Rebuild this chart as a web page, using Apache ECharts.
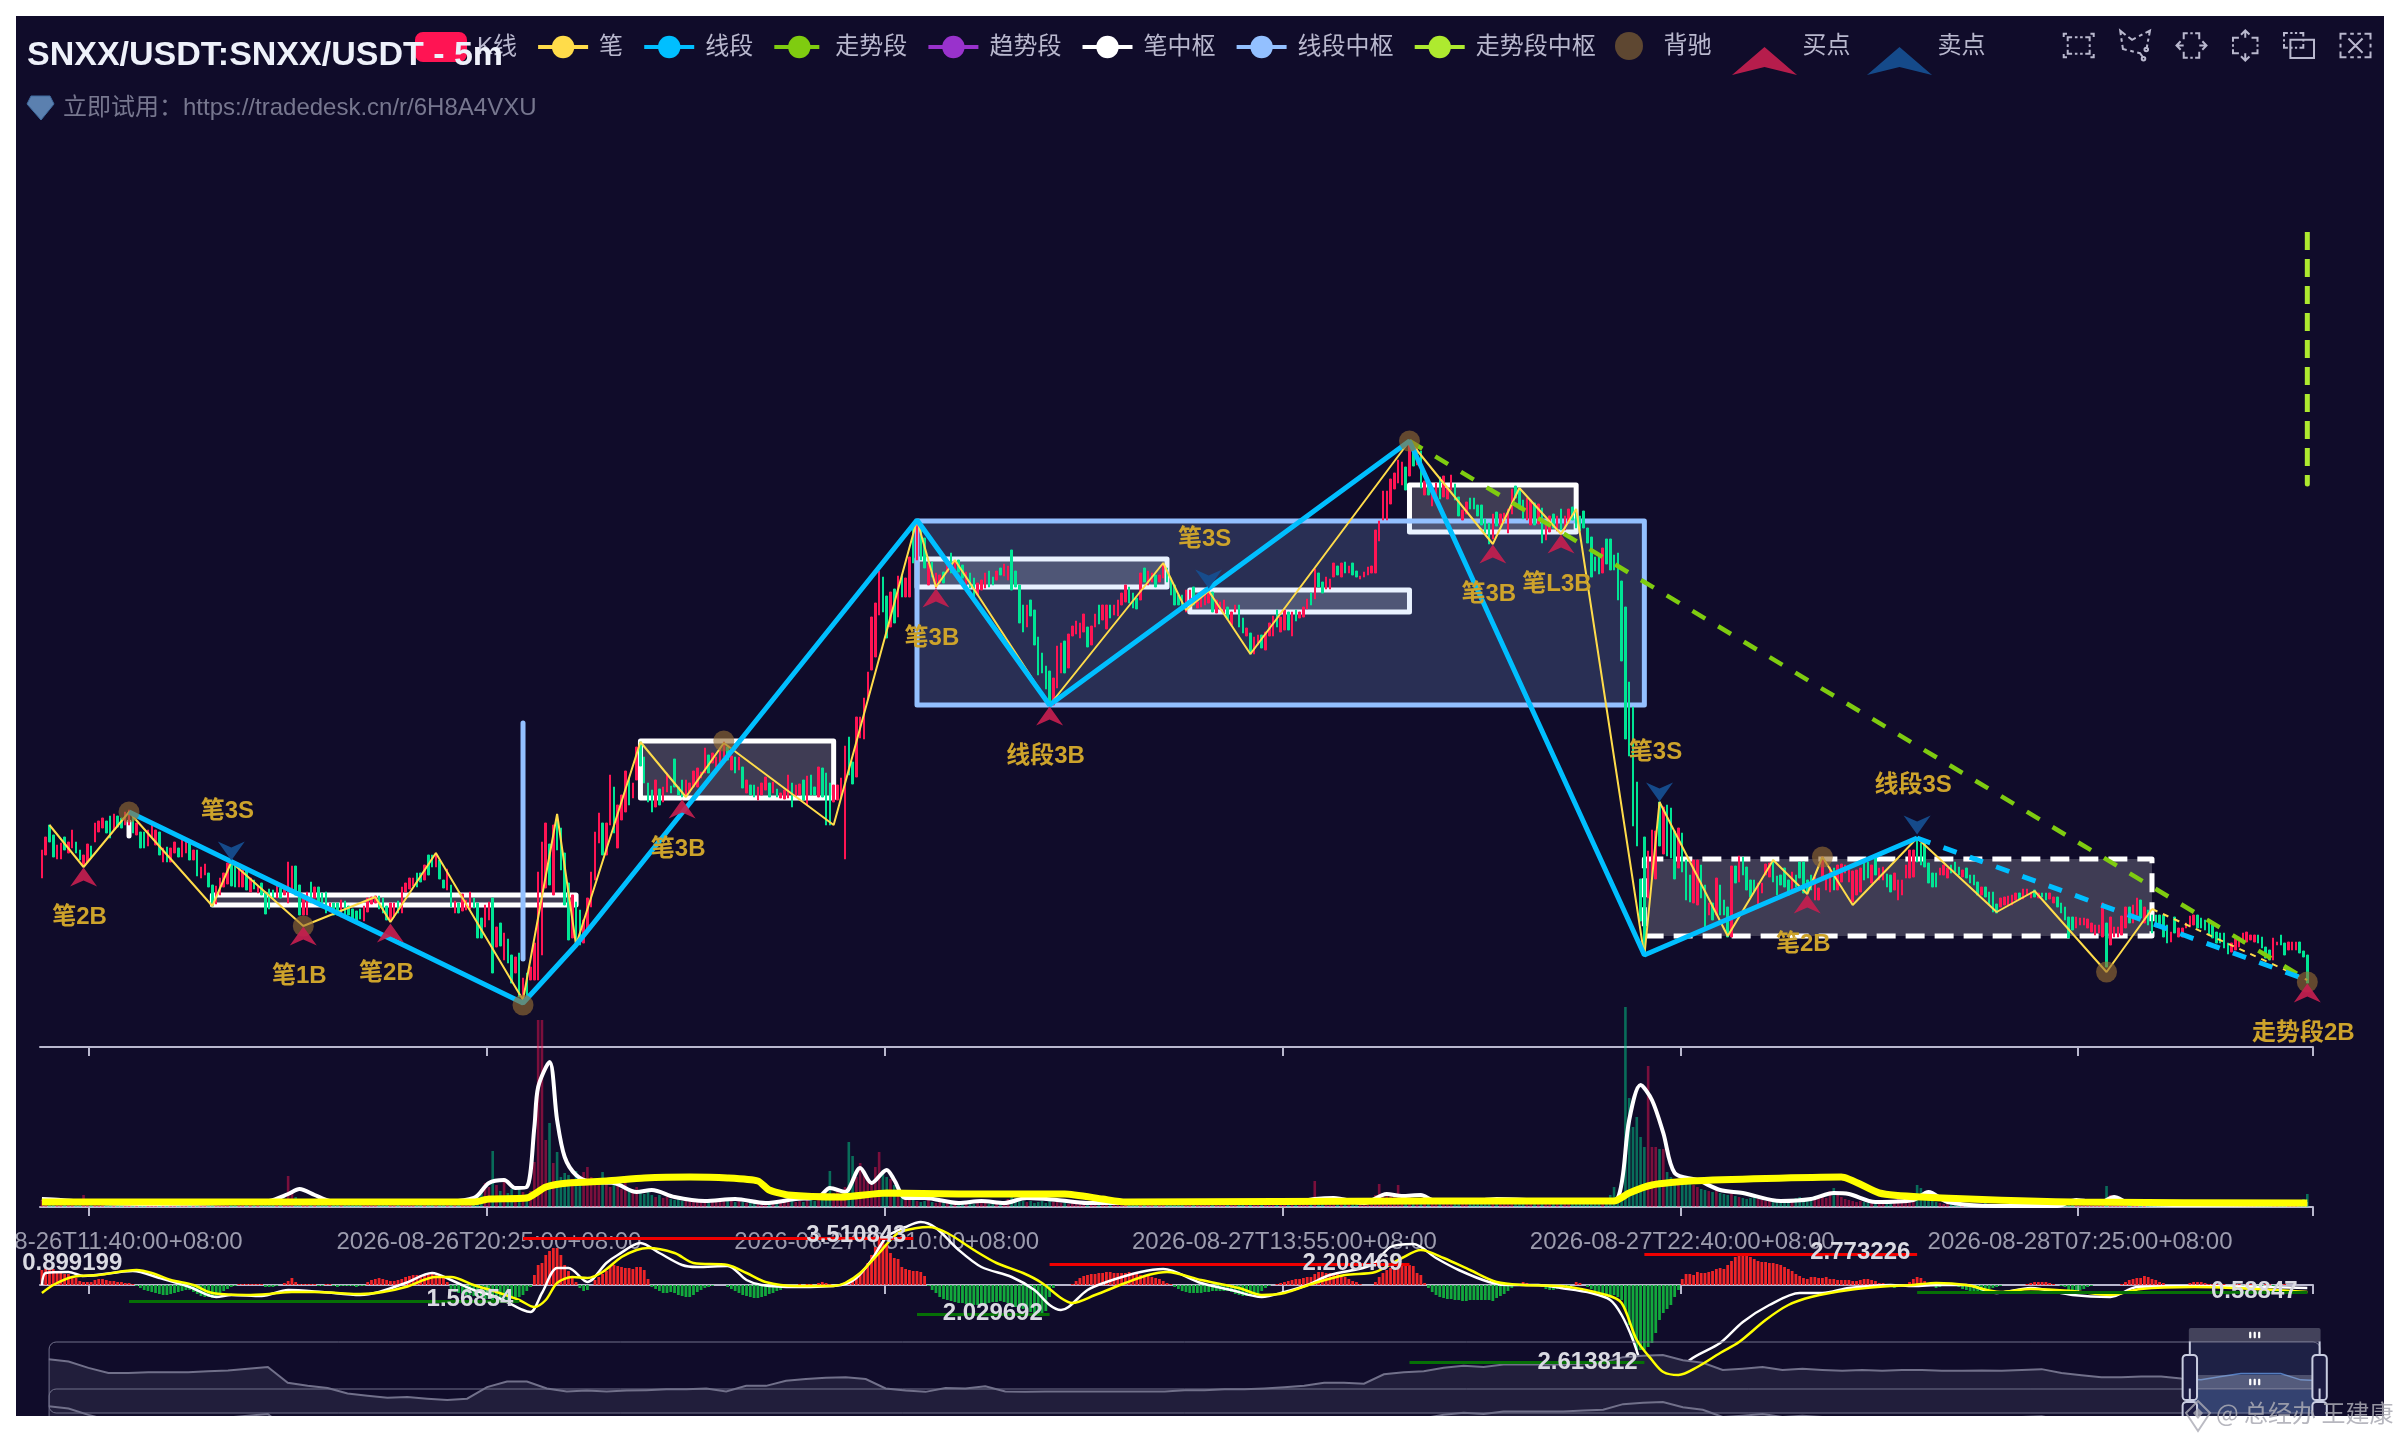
<!doctype html>
<html><head><meta charset="utf-8">
<style>html,body{margin:0;padding:0;background:#fff}#c{width:2400px;height:1440px}</style>
<script src="https://cdn.jsdelivr.net/npm/echarts@6/dist/echarts.min.js"></script>
</head><body><div id="c"></div>
<script>
// Candles as [open, close]; the price scale is unlabelled in the reference.
const candleOpenClose = [
[169,197],[192,210],[222,205],[212,190],[188,202],[188,204],[210,197],[194,205],[199,217],[205,194],
[197,187],[181,192],[185,203],[201,190],[205,224],[215,226],[219,229],[226,214],[231,209],[217,233],
[231,220],[229,219],[222,235],[222,237],[230,214],[212,224],[215,199],[215,199],[201,217],[210,222],
[202,217],[215,192],[185,199],[200,185],[185,199],[194,205],[199,190],[190,208],[194,205],[205,187],
[187,197],[197,171],[169,180],[172,183],[174,160],[162,141],[143,161],[152,169],[160,174],[163,184],
[185,161],[182,160],[160,180],[160,177],[179,157],[155,169],[167,158],[154,161],[164,152],[155,133],
[158,138],[157,149],[149,165],[159,149],[152,160],[144,185],[157,181],[181,152],[162,132],[132,152],
[132,155],[165,144],[149,160],[160,144],[154,139],[155,134],[135,144],[144,132],[144,132],[130,147],
[146,131],[141,132],[138,127],[136,125],[138,128],[126,141],[135,149],[143,150],[144,151],[151,138],
[149,134],[141,127],[127,144],[130,144],[146,134],[134,160],[155,164],[158,169],[161,169],[174,160],
[174,165],[167,182],[192,172],[192,180],[180,194],[187,168],[167,159],[157,178],[162,140],[134,146],
[144,134],[136,153],[137,147],[138,155],[149,139],[144,109],[129,109],[120,142],[127,145],[149,74],
[100,120],[124,101],[87,114],[108,84],[92,64],[74,90],[94,50],[44,69],[74,50],[67,80],
[67,104],[67,175],[92,205],[159,224],[203,162],[152,222],[232,197],[219,177],[194,142],[164,107],
[109,152],[145,102],[137,102],[104,127],[117,149],[140,175],[167,215],[204,234],[224,192],[192,224],
[222,272],[260,214],[199,242],[227,252],[235,276],[269,242],[249,264],[267,300],[305,281],[290,264],
[264,245],[257,235],[240,267],[258,242],[245,260],[255,274],[261,254],[288,260],[260,252],[267,250],
[252,267],[255,264],[260,276],[260,279],[269,275],[274,299],[292,274],[284,294],[280,290],[285,299],
[290,305],[300,287],[277,291],[290,274],[277,290],[280,259],[254,267],[262,252],[262,250],[247,260],
[252,264],[257,270],[264,250],[254,265],[258,250],[249,254],[248,257],[249,272],[264,240],[251,262],
[252,263],[267,247],[242,271],[272,252],[260,252],[250,280],[279,250],[274,222],[264,222],[245,262],
[247,262],[249,269],[188,301],[310,272],[285,263],[270,330],[309,330],[308,349],[347,375],[377,430],
[390,444],[432,476],[470,435],[451,409],[420,455],[458,424],[430,471],[471,450],[450,469],[450,490],
[519,484],[487,527],[519,487],[509,479],[462,484],[485,470],[459,474],[464,472],[475,464],[475,485],
[494,474],[474,485],[487,475],[482,469],[457,475],[474,459],[469,445],[452,464],[457,467],[459,474],
[476,460],[470,462],[467,476],[479,472],[471,483],[467,481],[497,457],[476,460],[462,424],[442,415],
[420,442],[447,431],[437,402],[410,372],[394,374],[381,358],[376,342],[342,369],[359,401],[374,404],
[406,374],[379,413],[411,421],[413,426],[409,424],[415,433],[420,400],[402,421],[420,433],[442,423],
[427,442],[418,442],[442,429],[432,442],[431,447],[442,454],[445,462],[460,444],[454,439],[449,438],
[447,474],[479,465],[462,476],[465,474],[472,460],[465,472],[469,483],[479,465],[469,452],[462,442],
[452,442],[452,437],[435,457],[444,457],[460,442],[439,445],[440,450],[442,454],[444,457],[455,435],
[434,447],[438,445],[433,447],[440,428],[422,435],[435,442],[442,420],[429,414],[411,419],[414,393],
[393,410],[402,412],[412,399],[397,415],[411,424],[411,431],[437,420],[415,430],[417,437],[435,417],
[411,435],[437,426],[429,435],[430,440],[438,448],[454,442],[448,478],[474,460],[465,454],[458,470],
[458,468],[470,484],[481,472],[470,484],[485,474],[474,481],[484,472],[476,470],[468,471],[470,475],
[472,480],[474,481],[474,517],[506,526],[527,556],[527,556],[543,568],[558,574],[564,587],[562,585],
[580,557],[571,606],[596,581],[582,603],[596,559],[552,566],[563,552],[541,557],[547,564],[570,548],
[550,571],[548,559],[557,572],[563,547],[550,531],[527,537],[533,545],[549,538],[549,538],[542,531],
[542,522],[528,514],[524,503],[508,533],[535,521],[522,533],[525,534],[514,538],[533,558],[561,549],
[559,538],[547,528],[527,549],[522,547],[544,522],[523,543],[539,504],[507,525],[515,531],[533,519],
[516,531],[538,517],[517,531],[525,538],[540,527],[536,519],[531,516],[536,519],[519,504],[510,470],
[490,476],[491,473],[474,499],[508,483],[508,477],[492,477],[494,447],[466,386],[440,308],[365,291],
[340,221],[265,201],[168,126],[210,91],[149,196],[168,217],[168,216],[245,201],[193,240],[242,191],
[239,189],[216,168],[179,219],[214,175],[187,147],[172,145],[144,187],[142,187],[182,149],[162,119],
[132,144],[144,127],[132,169],[162,132],[147,132],[140,110],[110,181],[181,164],[165,191],[190,172],
[180,157],[167,150],[167,155],[139,164],[154,164],[172,183],[170,184],[187,165],[171,152],[172,162],
[179,160],[167,152],[157,175],[172,160],[185,169],[185,154],[167,154],[172,157],[147,170],[147,159],
[169,190],[157,169],[155,180],[179,157],[157,182],[165,183],[174,182],[165,177],[145,176],[152,177],
[155,179],[184,167],[185,169],[164,182],[192,172],[167,179],[167,180],[173,160],[172,155],[157,174],
[147,167],[152,167],[169,182],[169,197],[170,197],[209,185],[204,182],[205,180],[184,164],[174,160],
[174,160],[172,179],[172,182],[169,179],[182,174],[185,175],[180,172],[170,177],[179,169],[172,164],
[172,162],[165,152],[152,160],[160,150],[155,142],[155,135],[143,134],[140,149],[142,150],[142,151],
[142,152],[147,154],[154,148],[148,158],[152,158],[149,155],[157,150],[149,154],[154,150],[154,147],
[148,154],[144,150],[150,140],[144,134],[140,127],[130,109],[130,117],[119,130],[122,129],[122,129],
[119,128],[115,124],[112,122],[114,122],[110,144],[124,80],[102,130],[110,120],[110,120],[112,131],
[119,140],[140,124],[124,142],[132,149],[147,129],[124,140],[137,122],[132,114],[132,120],[132,122],
[132,110],[122,104],[105,115],[130,114],[110,119],[110,119],[119,124],[120,131],[122,132],[132,119],
[129,119],[127,117],[125,112],[122,109],[115,104],[114,104],[114,99],[104,93],[95,104],[97,109],
[100,110],[104,114],[105,115],[107,112],[105,112],[112,104],[110,99],[100,89],[97,87],[87,109],
[102,105],[112,102],[104,92],[97,105],[97,105],[97,105],[105,94],[96,90],[92,64]
];
// Volume per bar
const volumes = [
7,6,9,5,4,6,5,4,3,4,5,12,5,4,3,5,4,3,4,3,
3,4,3,4,5,4,3,3,2,3,3,4,3,3,2,3,2,3,3,4,
3,3,2,3,2,3,3,2,2,3,4,3,3,2,3,3,4,3,3,4,
4,5,6,5,7,31,14,10,8,6,5,4,3,4,3,3,4,3,5,3,
4,3,3,4,3,5,4,3,3,4,3,4,5,4,3,4,3,4,5,3,
4,3,5,4,3,6,5,4,5,4,3,5,6,9,10,12,18,24,20,56,
22,16,25,14,18,12,20,15,13,16,45,187,187,67,84,44,55,30,34,32,
28,36,25,35,40,30,22,26,35,28,20,24,22,18,25,16,14,20,15,13,
18,12,10,12,9,10,8,7,8,6,7,9,6,5,6,7,5,6,5,6,
8,6,7,5,6,5,4,5,6,5,4,6,5,4,5,6,5,7,6,5,
6,5,8,7,6,10,9,8,36,14,18,12,20,65,51,30,44,35,28,26,
40,55,37,30,28,22,16,10,8,9,7,6,5,6,7,5,4,6,5,4,
5,4,3,5,4,5,3,6,5,4,3,5,4,3,4,8,10,9,7,6,
5,6,4,5,6,4,7,5,6,4,5,3,4,5,3,4,3,4,3,4,
3,4,5,3,4,3,4,3,4,3,5,4,3,4,3,4,3,4,5,3,
4,3,4,3,5,4,3,4,6,5,4,3,4,5,3,4,3,4,3,4,
5,4,3,4,3,4,5,4,6,4,5,3,4,6,5,7,26,9,8,7,
6,5,6,5,4,5,4,5,4,6,5,8,12,23,14,12,11,10,22,12,
9,10,9,8,7,6,5,6,5,4,5,9,6,5,4,5,4,5,6,5,
7,5,4,6,4,5,4,3,6,4,5,4,3,4,3,5,4,3,4,3,
4,3,4,5,3,4,3,4,5,4,6,5,4,6,12,20,10,12,200,109,
80,90,70,60,141,60,60,58,58,35,30,28,25,26,30,24,22,20,18,17,
16,15,18,14,13,12,14,11,10,9,8,9,10,8,7,6,8,7,6,7,
6,8,7,9,10,8,7,6,8,10,12,9,16,19,12,10,8,7,6,5,
6,5,4,5,6,5,7,6,4,5,8,6,5,10,14,22,19,12,9,6,
5,4,3,4,3,2,3,2,3,2,3,2,3,4,3,2,3,2,3,2,
2,3,2,3,2,2,3,2,3,2,4,3,5,4,8,7,5,4,6,4,
3,4,3,6,8,21,12,7,5,4,3,4,2,3,2,3,2,3,2,3,
2,3,2,1,2,3,2,3,2,2,3,2,1,2,3,2,2,1,2,3,
2,3,2,3,2,1,2,3,2,4,3,2,3,2,3,4,2,8,13
];
const volShort = [[0,8],[5,7],[15,4],[30,3],[50,4],[60,6],[65,13],[68,18],[72,12],[76,6],[85,5],[100,4],[114,9],[118,24],[122,27],[125,19],[128,20],[130,80],[131,120],[134,145],[136,87],[138,50],[141,32],[145,25],[151,24],[157,15],[161,17],[167,10],[175,6],[183,8],[191,4],[199,8],[205,10],[208,19],[212,15],[216,39],[219,24],[223,37],[225,27],[228,9],[233,9],[242,4],[248,6],[254,4],[260,9],[268,7],[276,4],[286,4],[312,5],[328,4],[336,8],[341,9],[349,4],[355,13],[359,11],[364,12],[367,7],[376,5],[384,8],[397,6],[411,5],[416,9],[419,87],[422,122],[425,107],[428,74],[431,34],[437,27],[443,17],[449,14],[459,6],[467,8],[473,14],[477,13],[484,5],[494,7],[498,15],[503,5],[516,1],[532,1],[537,7],[543,4],[547,10],[551,4],[568,2],[598,3]];
const volLong = [[0,5],[60,5],[114,5],[118,8],[128,9],[133,20],[139,24],[149,26],[159,29],[171,30],[181,29],[189,26],[192,17],[197,12],[211,10],[223,14],[242,13],[270,13],[280,8],[286,5],[366,6],[415,6],[419,14],[425,22],[435,26],[475,30],[485,14],[496,10],[536,5],[598,4]];
// MACD histogram as runs: [first bar, values]
const macdHistRuns = [
[0,[15,18,17,16,14,13,11,11,9,7,4,3,3,3,5,6,6,5,4,4,3,3,2,2,1]],
[25,[-1,-3,-5,-6,-7,-8,-9,-10,-10,-9,-8,-7,-6,-5,-5,-7,-9,-11,-12,-12,-13,-12,-9,-6,-4,-2,-1]],
[52,[1,1,1,1,1,1,1]],[59,[-2,-2,-2,-1]],[64,[2,4,7,3,1,1,1,1,1]],[73,[-1,-1,1,1,-1,-2,-1,-1,-1,-1,-2,-1,-1]],
[86,[3,5,6,7,6,5,4,4,5,6,8,9,10,10,10,11,11,11,10,9,7,3]],
[108,[-4,-7,-8,-9,-10,-10,-11,-12,-13,-14,-14,-15,-14,-14,-15,-15,-14,-13,-12,-10,-6,-2]],
[130,[10,20,22,30,34,37,37,30,20,14,8,3]],[142,[-3,-6,-5]],
[146,[5,8,11,14,18,20,19,18,17,17,16,18,18,15,6]],
[161,[-2,-4,-6,-8,-8,-7,-8,-10,-11,-12,-12,-10,-7,-5,-3,-2,-1]],
[181,[-2,-4,-6,-8,-10,-11,-12,-13,-13,-12,-11,-9,-8,-6,-5,-3,-2,-1,-1]],
[200,[1,-1,1,1,-1,2,3,2,1]],
[212,[3,5,6,8,11,16,22,30,38,45,43,40,32,27,26,18,16,15,14,14,13,9]],
[234,[-1,-5,-8,-12,-14,-15,-16,-17,-18,-18,-19,-20,-20,-20,-20,-19,-18,-17,-17,-16,-17,-18,-20,-22,-23,-24,-25,-27,-28,-29,-28,-26,-12,-3]],
[272,[1,4,7,9,10,11,11,12,12,13,13,12,12,12,12,13,12,11,10,9,9,8,7,6,4,2,1]],
[299,[-2,-4,-6,-7,-8,-8,-8,-8,-7,-7,-6,-6,-6,-6,-6,-7,-9,-10,-11,-11,-11,-10,-9,-6,-3,-1]],
[326,[1,2,3,4,5,6,6,7,8,8,11,13,13,12,12,11,11,9,8,6,4,3,1]],
[352,[3,8,12,15,17,18,20,22,21,20,19,12,10,2]],
[366,[-3,-7,-10,-12,-13,-14,-14,-15,-15,-16,-16,-15,-15,-15,-15,-15,-15,-16,-13,-11,-9,-6,-3,-1]],
[390,[1,3,2,1]],[395,[-1,-2,-4,-5,-5,-4,-3,-1,-1]],[405,[3,2]],
[408,[-2,-4,-6,-7,-8,-9,-10,-10,-12,-15,-25,-40,-55,-65,-65,-65,-62,-58,-48,-35,-28,-24,-20,-12,-5]],
[433,[6,11,11,10,13,12,12,13,14,16,17,16,20,24,28,30,32,30,28,26,24,23,23,22,22,21,20,18,16,14,11,9,7,6,8,8,7,7,8,6,6,5,5,5,5,4,4,5,6,6,5,4,2,2]],
[487,[-1,-2,-3,-2]],[493,[3,6,8,7,4,2]],
[499,[-1,-3,-2,-1,0,-1,-1,-2,-4,-5,-6,-6,-6,-6,-5,-4,-3,-2,-1]],
[524,[1,2,3,3,3,3,2,1]],[533,[-1,-2,-5,-7,-6,-5,-4,-2,-1]],
[549,[1,3,5,6,7,7,9,8,6,5,3,2]],[567,[2,3,3,3,2,1,1,1]],[575,[1,1,-1,-1,1,1,-1,1,1,1,-1,-1,1,1,-1,-1,1,1]]
];
const macdDif = [[0,0],[1,12],[7,13],[11,9],[24,14],[31,7],[39,-2],[46,-12],[50,-10],[58,-11],[65,-5],[74,-7],[84,-10],[89,-7],[96,2],[103,12],[108,5],[114,-5],[120,-12],[127,-25],[129,-27],[132,-8],[136,17],[139,17],[144,3],[149,22],[152,30],[158,42],[163,32],[169,20],[173,18],[181,19],[186,5],[190,0],[199,-2],[211,0],[215,7],[219,25],[223,48],[228,58],[232,63],[236,57],[242,35],[248,18],[256,8],[262,-5],[266,-20],[269,-25],[271,-22],[276,-5],[281,3],[290,13],[296,16],[306,2],[314,-5],[322,-12],[328,-7],[334,0],[340,10],[351,20],[356,38],[362,41],[368,27],[374,15],[382,3],[387,0],[395,0],[401,-3],[409,-8],[414,-15],[417,-30],[420,-55],[423,-88],[426,-108],[429,-100],[435,-75],[443,-58],[449,-37],[456,-20],[464,-8],[470,-8],[477,-3],[488,0],[494,-1],[501,0],[508,0],[516,-8],[525,-3],[536,-10],[546,-12],[553,-2],[568,-1],[598,-3]];
const macdDea = [[0,-8],[3,0],[8,8],[15,10],[25,15],[29,12],[34,5],[40,0],[44,-7],[47,-9],[54,-10],[60,-9],[66,-7],[72,-7],[78,-8],[84,-9],[90,-7],[96,-2],[104,8],[108,8],[114,0],[120,-7],[126,-15],[130,-22],[133,-15],[136,2],[140,8],[144,7],[148,13],[153,28],[157,35],[160,37],[167,32],[172,22],[181,20],[186,12],[191,3],[199,-1],[209,-1],[212,2],[216,12],[221,32],[226,52],[231,57],[234,58],[239,52],[246,35],[252,22],[259,12],[264,2],[269,-13],[272,-18],[278,-10],[286,2],[292,10],[297,13],[306,5],[316,-3],[322,-10],[328,-8],[336,2],[344,10],[352,13],[359,27],[364,35],[370,27],[377,15],[384,3],[391,0],[401,-1],[413,-10],[417,-18],[421,-55],[425,-75],[428,-87],[432,-90],[437,-82],[443,-68],[448,-57],[455,-35],[461,-20],[467,-12],[477,-5],[488,-1],[494,0],[500,2],[508,0],[517,-7],[525,-4],[536,-6],[546,-10],[554,-4],[568,-2],[598,-7]];
// Structure lines as [bar, price]
const biConfirmed = [[2,222],[11,180],[23,235],[45,141],[50,185],[69,121],[88,150],[92,125],[104,194],[127,47],[136,233],[141,102],[158,305],[170,250],[180,304],[209,222],[231,527],[236,460],[241,487],[266,342],[296,484],[302,437],[308,456],[319,393],[361,606],[383,503],[390,559],[401,513],[405,538],[423,91],[427,245],[445,111],[457,187],[466,153],[470,190],[478,142],[495,209],[516,135],[526,156],[545,75],[557,138]];
const biPending = [[557,138],[598,67]];
const duanConfirmed = [[23,235],[127,44],[141,102],[231,527],[266,342],[361,606],[423,92],[495,209]];
const duanPending = [[495,209],[598,67]];
const trendPending = [[361,606],[598,67]];
// Pivot boxes: [first bar, last bar, upper price, lower price]
const biPivots = [[23,23,225,211],[45,141,152,142],[158,209,306,249],[231,297,488,460],[303,361,457,435],[361,405,562,515]];
const biPivotsPending = [[423,557,188,111]];
const duanPivots = [[127,127,324,88],[231,423,526,342]];
const trendPivots = [[598,598,815,563]];
const divergences = [[23,235],[69,121],[127,42],[180,306],[361,606],[470,190],[545,75],[598,65]];
const buyPoints = [[11,180,'笔2B'],[69,121,'笔1B'],[92,124,'笔2B'],[169,248,'笔3B'],[236,459,'笔3B'],[266,341,'线段3B'],[383,503,'笔3B'],[401,513,'笔L3B'],[466,153,'笔2B'],[598,64,'走势段2B']];
const sellPoints = [[50,186,'笔3S'],[308,458,'笔3S'],[427,245,'笔3S'],[495,212,'线段3S']];
// MACD swing markers: [first bar, last bar, level]
const macdHighLines = [[127,230,47],[266,361,21],[423,495,31]];
const macdLowLines = [[23,126,-16],[231,266,-29],[361,423,-77],[495,598,-7]];
const macdNotes = [[8,22,'0.899199'],[113,-14,'1.56854'],[215,50,'3.510843'],[251,-28,'2.029692'],[346,22,'2.208469'],[408,-77,'2.613812'],[480,33,'2.773226'],[584,-6,'0.58847']];
// Price history for the zoom slider overview
const overviewPrice = [190,185,170,158,158,160,160,160,162,164,168,172,135,128,123,110,105,100,102,98,95,98,125,138,138,122,115,117,115,117,118,120,120,122,115,128,128,140,144,147,148,144,122,117,114,123,122,127,115,114,115,115,115,115,115,115,115,118,
118,120,120,122,125,128,135,135,133,155,160,162,170,175,172,178,178,178,178,180,182,195,198,200,188,182,165,168,172,165,168,165,163,165,163,165,165,163,163,164,163,165,167,158,153,148,148,150,150,145,142,150,157,157,157,142,140];
const legendOne = ['K线','笔','线段','走势段','趋势段','笔中枢','线段中枢','走势段中枢'];
const tickLabelBars = [13,118,223,328,433,538];
const barCount = 600;

const FONT = '"Liberation Sans","Noto Sans CJK SC",sans-serif';
const UP='#FF1453', DOWN='#00E594', AXIS='#B9B8CE', BG='#100C2A';
const pad=n=>String(n).padStart(2,'0');
const categories = Array.from({length:barCount},(_,i)=>{
  const m = 10*60+35+i*5, d = 26+Math.floor(m/1440), r = m%1440;
  return `2026-08-${d}T${pad(Math.floor(r/60))}:${pad(r%60)}:00+08:00`;
});
const macdHist = new Array(barCount).fill(0);
macdHistRuns.forEach(([s,vals])=>vals.forEach((v,k)=>{macdHist[s+k]=v;}));
const candleData = candleOpenClose.map(([o,c])=>[o,c,Math.min(o,c),Math.max(o,c)]);
const atTick = idx => tickLabelBars.includes(idx);
const boxes=(list)=>list.map(([a,b,t,l])=>[{coord:[a,t]},{coord:[b,l]}]);
const UP_ARROW='path://M13,0L26,19L13,13L0,19Z';
const DOWN_ARROW='path://M0,0L13,6L26,0L13,19Z';
const LEGEND_UP='path://M32.5,0L32.5,0.01M32.5,30L65,58L32.5,50L0,58Z';

function structLine(name,data,color,width,dash,z){
  return {name,type:'line',data,symbol:'circle',showSymbol:false,silent:true,z:z||5,
    itemStyle:{color},lineStyle:{color,width,type:dash||'solid'}};
}
function pivotSeries(name,list,color,dash,fillAlpha){
  const s=structLine(name,[],color,4,'solid',3);
  const rgba=echarts.color.modifyAlpha(color,fillAlpha);
  s.markArea={silent:true,itemStyle:{color:rgba,borderColor:color,borderWidth:5,borderType:dash||'solid',borderJoin:'round'},data:boxes(list)};
  return s;
}
const bi=structLine('笔',biConfirmed,'#FFDC4A',2);
const biP=structLine('笔',biPending,'#FFDC4A',2,[6,6]);
const duan=structLine('线段',duanConfirmed,'#00BFFF',5,'solid',6);
const duanP=structLine('线段',duanPending,'#00BFFF',5,[14,14],6);
const trend=structLine('走势段',trendPending,'#7FCC10',4.5,[15,15],5);
const qs=structLine('趋势段',[],'#9932CC',4);
const biBox=pivotSeries('笔中枢',biPivots,'#FFFFFF',null,.2);
const biBoxP=pivotSeries('笔中枢',biPivotsPending,'#FFFFFF',[19,10],.2);
const duanBox=pivotSeries('线段中枢',duanPivots,'#93C0FF',null,.2);
const trendBox=pivotSeries('走势段中枢',trendPivots,'#AEEA2F',[15,12],.2);

const labelStyle={show:true,position:'inside',color:'#CDA32B',opacity:1,fontSize:24,fontWeight:'bold',fontFamily:FONT,formatter:p=>p.data.name};
const axisTickOpt={show:true,interval:atTick,length:9,lineStyle:{color:AXIS,width:2}};
const legendLine={width:4};
const option={
  animation:false,backgroundColor:BG,textStyle:{fontFamily:FONT},
  title:[
    {text:'SNXX/USDT:SNXX/USDT - 5m',left:22,top:39,padding:[0,5],textStyle:{color:'#EEF1FA',fontSize:34,fontWeight:'bold',fontFamily:FONT}},
    {text:'立即试用：https://tradedesk.cn/r/6H8A4VXU',left:58,top:96,padding:[0,5],textStyle:{color:'#77778F',fontSize:24,fontWeight:'normal',fontFamily:FONT}}
  ],
  legend:[
    {data:legendOne,left:415,top:32,padding:0,itemWidth:50,itemHeight:28,itemGap:19.1,lineStyle:legendLine,textStyle:{color:AXIS,fontSize:24,fontFamily:FONT,padding:[0,0,0,6]}},
    {data:[{name:'背驰',icon:'circle',itemStyle:{color:'#5E4731',opacity:1}}],left:1615,top:32,padding:0,itemWidth:29,itemHeight:28,textStyle:{color:AXIS,fontSize:24,fontFamily:FONT,padding:[0,0,0,15]}},
    {data:[{name:'买点',icon:LEGEND_UP}],left:1732,top:17,padding:0,itemWidth:66,itemHeight:58,textStyle:{color:AXIS,fontSize:24,fontFamily:FONT}},
    {data:[{name:'卖点',icon:LEGEND_UP}],left:1867,top:17,padding:0,itemWidth:66,itemHeight:58,textStyle:{color:AXIS,fontSize:24,fontFamily:FONT}}
  ],
  toolbox:{right:12,top:13,itemSize:30,itemGap:21.5,iconStyle:{borderColor:AXIS,borderWidth:2},feature:{brush:{type:['rect','polygon','lineX','lineY','keep','clear']}}},
  brush:{xAxisIndex:0,brushStyle:{color:'rgba(120,140,180,.3)'}},
  grid:[
    {left:40,right:87,top:100,height:947,outerBoundsMode:'none'},
    {left:40,right:87,top:1000,height:207,outerBoundsMode:'none'},
    {left:40,right:87,top:1180,height:220,outerBoundsMode:'none'},
    {left:0,top:0,width:10,height:10,show:false,outerBoundsMode:'none'}
  ],
  xAxis:[
    {type:'category',gridIndex:0,data:categories,axisLine:{onZero:false,lineStyle:{color:AXIS,width:2}},axisTick:axisTickOpt,axisLabel:{show:false},splitLine:{show:false}},
    {type:'category',gridIndex:1,data:categories,axisLine:{onZero:false,lineStyle:{color:AXIS,width:2}},axisTick:axisTickOpt,axisLabel:{show:true,interval:atTick,color:'#9C9CAE',fontSize:24,fontFamily:FONT,margin:23,hideOverlap:false},splitLine:{show:false}},
    {type:'category',gridIndex:2,data:categories,axisLine:{onZero:true,lineStyle:{color:AXIS,width:2}},axisTick:axisTickOpt,axisLabel:{show:false},splitLine:{show:false}},
    {type:'category',gridIndex:3,show:false,data:overviewPrice.map((_,i)=>i)}
  ],
  yAxis:[
    {type:'value',gridIndex:0,min:0,max:947,show:false,splitLine:{show:false}},
    {type:'value',gridIndex:1,min:0,max:207,show:false,splitLine:{show:false}},
    {type:'value',gridIndex:2,min:-115,max:105,show:false,splitLine:{show:false}},
    {type:'value',gridIndex:3,show:false,scale:true,splitLine:{show:false}}
  ],
  dataZoom:[1328,1375].map(top=>({
    type:'slider',xAxisIndex:3,start:94.2,end:100,left:43,right:85,top,height:72,showDetail:false,filterMode:'none',
    borderColor:'#71708A',borderRadius:7,backgroundColor:'transparent',
    dataBackground:{lineStyle:{color:'#71708A',width:2,opacity:1},areaStyle:{color:'#211E3B',opacity:1}},
    selectedDataBackground:{lineStyle:{color:'#5C8FD8',width:1.5,opacity:.8},areaStyle:{color:'#5272A8',opacity:.2}},
    fillerColor:'rgba(135,175,255,.13)',
    handleStyle:{color:'#1C1B42',borderColor:'#C8CCE0',borderWidth:2},
    moveHandleSize:14,moveHandleStyle:{color:'#B0B3C3',opacity:.32},
    z:4
  })),
  series:[
    {name:'K线',type:'candlestick',data:candleData,barWidth:2,silent:true,z:2,
      itemStyle:{color:UP,color0:DOWN,borderColor:UP,borderColor0:DOWN,borderWidth:1}},
    biBox,biBoxP,duanBox,trendBox,bi,biP,duan,duanP,trend,qs,
    {name:'背驰',type:'scatter',data:divergences,symbol:'circle',symbolSize:21,silent:true,z:7,itemStyle:{color:'rgba(150,110,50,.62)',opacity:1}},
    {name:'买点',type:'scatter',silent:true,z:8,symbol:UP_ARROW,symbolSize:[27,19],symbolOffset:[0,10],itemStyle:{color:'#C4204F',opacity:.92},
      data:buyPoints.map(([i,v,n])=>({value:[i,v],name:n})),label:Object.assign({offset:[-4,40]},labelStyle)},
    {name:'卖点',type:'scatter',silent:true,z:8,symbol:DOWN_ARROW,symbolSize:[27,19],symbolOffset:[0,-10],itemStyle:{color:'#164E8F',opacity:.95},
      data:sellPoints.map(([i,v,n])=>({value:[i,v],name:n})),label:Object.assign({offset:[-4,-39.5]},labelStyle)},
    {name:'成交量',type:'bar',xAxisIndex:1,yAxisIndex:1,data:volumes,barWidth:2.6,silent:true,z:2,
      itemStyle:{color:p=>{const r=candleOpenClose[p.dataIndex];return r&&r[1]>=r[0]?'rgba(255,20,83,.45)':'rgba(0,229,148,.45)';}}},
    {name:'MA短',type:'line',xAxisIndex:1,yAxisIndex:1,data:volShort,symbol:'none',smooth:.3,silent:true,z:3,lineStyle:{color:'#FFFFFF',width:4}},
    {name:'MA长',type:'line',xAxisIndex:1,yAxisIndex:1,data:volLong,symbol:'none',smooth:.2,silent:true,z:4,lineStyle:{color:'#FFFF00',width:7}},
    {name:'MACD',type:'bar',xAxisIndex:2,yAxisIndex:2,data:macdHist,barWidth:2.8,silent:true,z:2,
      itemStyle:{color:p=>p.value>=0?'#EE2428':'#12A83C'},
      markLine:{silent:true,symbol:['none','none'],label:{show:false},
        data:[...macdHighLines.map(([a,b,v])=>[{coord:[a,v],lineStyle:{color:'#F00000',width:3,type:'solid'}},{coord:[b,v]}]),
              ...macdLowLines.map(([a,b,v])=>[{coord:[a,v],lineStyle:{color:'#067006',width:3,type:'solid'}},{coord:[b,v]}])]}},
    {name:'DIF',type:'line',xAxisIndex:2,yAxisIndex:2,data:macdDif,symbol:'none',smooth:.3,silent:true,z:3,lineStyle:{color:'#FFFFFF',width:2.5}},
    {name:'DEA',type:'line',xAxisIndex:2,yAxisIndex:2,data:macdDea,symbol:'none',smooth:.3,silent:true,z:4,lineStyle:{color:'#FFFF00',width:2.5}},
    {name:'极值',type:'scatter',xAxisIndex:2,yAxisIndex:2,symbolSize:1,silent:true,z:20,itemStyle:{color:'transparent',opacity:1},
      data:macdNotes.map(([i,v,n])=>({value:[i,v],name:n})),
      label:{show:true,position:'inside',color:'#DADAE2',opacity:1,fontSize:24,fontWeight:'bold',fontFamily:FONT,formatter:p=>p.data.name}},
    {name:'概览',type:'line',xAxisIndex:3,yAxisIndex:3,data:overviewPrice,symbol:'none',silent:true,lineStyle:{opacity:0}}
  ],
  graphic:{elements:[
    {type:'polygon',z:20,silent:true,shape:{points:[[31,96],[50,96],[54,104],[41,120],[27,104]]},style:{fill:'#5B80AF',stroke:'#3F6A9E',lineWidth:1}},
    {type:'rect',z:1000,silent:true,shape:{x:0,y:0,width:2400,height:16},style:{fill:'#fff'}},
    {type:'rect',z:1000,silent:true,shape:{x:0,y:1416,width:2400,height:24},style:{fill:'#fff'}},
    {type:'rect',z:1000,silent:true,shape:{x:0,y:0,width:16,height:1440},style:{fill:'#fff'}},
    {type:'rect',z:1000,silent:true,shape:{x:2384,y:0,width:16,height:1440},style:{fill:'#fff'}},
    {type:'polygon',z:1001,silent:true,shape:{points:[[2198,1401],[2210,1413],[2198,1431],[2186,1413]]},style:{fill:'none',stroke:'rgba(170,170,180,.8)',lineWidth:2}},
    {type:'polygon',z:1001,silent:true,shape:{points:[[2198,1408],[2203,1413],[2198,1419],[2193,1413]]},style:{fill:'rgba(170,170,180,.8)'}},
    {type:'text',z:1001,silent:true,x:2216,y:1401,style:{text:'@ 总经办 王建康',fill:'rgba(170,170,180,.85)',font:'24px "Noto Sans CJK SC"'}}
  ]}
};
const chart=echarts.init(document.getElementById('c'),null,{renderer:'canvas'});
chart.setOption(option);
</script></body></html>
